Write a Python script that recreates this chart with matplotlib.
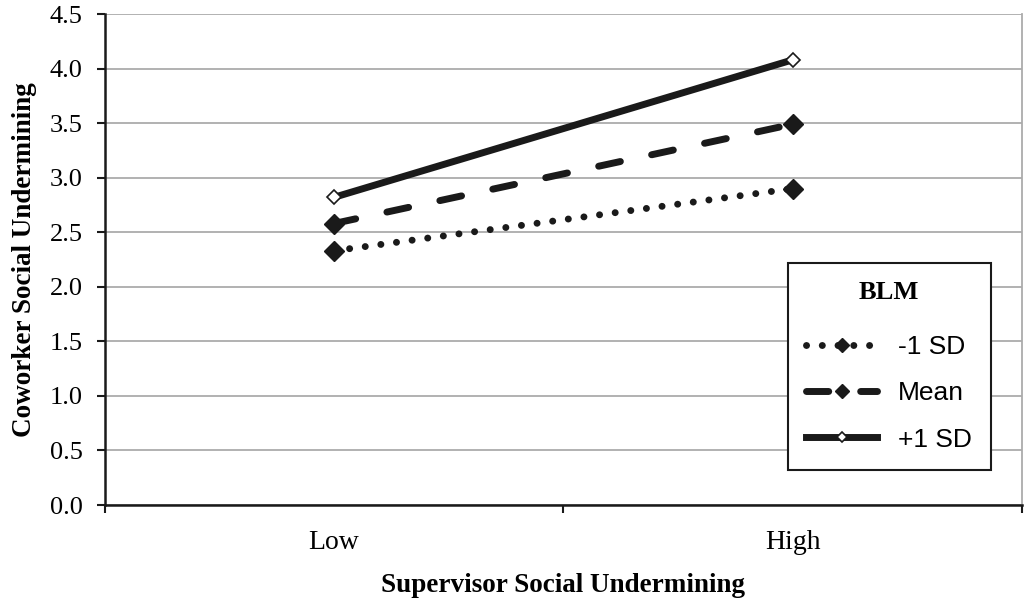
import matplotlib.pyplot as plt

# data
categories = ["Low", "High"]
minus_sd = [2.33, 2.90]
mean_vals = [2.58, 3.49]
plus_sd = [2.82, 4.08]
series_labels = ["-1 SD", "Mean", "+1 SD"]
y_ticks = [0.0, 0.5, 1.0, 1.5, 2.0, 2.5, 3.0, 3.5, 4.0, 4.5]

ink = "#1a1a1a"

fig = plt.figure(figsize=(10.26, 5.98), dpi=100)
ax = fig.add_axes([0.102, 0.1555, 0.894, 0.821])

x = [0.5, 1.5]
ax.plot(x, minus_sd, color=ink, lw=5, linestyle=(0, (0.01, 2.26)),
        dash_capstyle="round", marker="D", ms=10, mfc=ink, mec=ink,
        label=series_labels[0])
ax.plot(x, mean_vals, color=ink, lw=5, linestyle=(0, (3.2, 4.6)),
        dash_capstyle="round", marker="D", ms=10, mfc=ink, mec=ink,
        label=series_labels[1])
ax.plot(x, plus_sd, color=ink, lw=5, linestyle="-",
        marker="D", ms=7, mfc="white", mec=ink, mew=1.2,
        label=series_labels[2])

ax.set_xlim(0, 2)
ax.set_ylim(0, 4.5)
ax.set_yticks(y_ticks)
ax.set_yticklabels([f"{v:.1f}" for v in y_ticks], family="Liberation Serif", fontsize=19)
ax.set_xticks([0, 1, 2])
ax.set_xticklabels([])
ax.set_xticks(x, minor=True)
ax.set_xticklabels(categories, minor=True, family="Liberation Serif", fontsize=20)
ax.tick_params(axis="x", which="minor", length=0, pad=18)
ax.tick_params(axis="x", which="major", length=6, width=1.5, color=ink)
ax.tick_params(axis="y", length=6, width=1.5, color=ink, pad=10)

ax.grid(axis="y", color="#ababab", lw=1.3)
ax.set_axisbelow(True)
ax.spines["top"].set_visible(False)
ax.spines["right"].set_color("#ababab")
ax.spines["right"].set_linewidth(1.3)
for side in ["left", "bottom"]:
    ax.spines[side].set_linewidth(1.8)
    ax.spines[side].set_color(ink)

ax.set_xlabel("Supervisor Social Undermining", family="Liberation Serif",
              fontweight="bold", fontsize=19.5, labelpad=13)
ax.set_ylabel("Coworker Social Undermining", family="Liberation Serif",
              fontweight="bold", fontsize=19.5, labelpad=9)

leg = ax.legend(title="BLM", loc="lower right", bbox_to_anchor=(0.966, 0.071),
                prop={"family": "Liberation Sans", "size": 19},
                title_fontproperties={"family": "Liberation Serif", "weight": "bold", "size": 19},
                frameon=True, fancybox=False, edgecolor=ink, framealpha=1,
                handlelength=2.7, markerscale=0.7, borderpad=0.7,
                labelspacing=0.85, handletextpad=0.8, borderaxespad=0)
leg.get_frame().set_linewidth(1.5)
leg._legend_box.sep = 22

fig.savefig("out.png", dpi=100)
